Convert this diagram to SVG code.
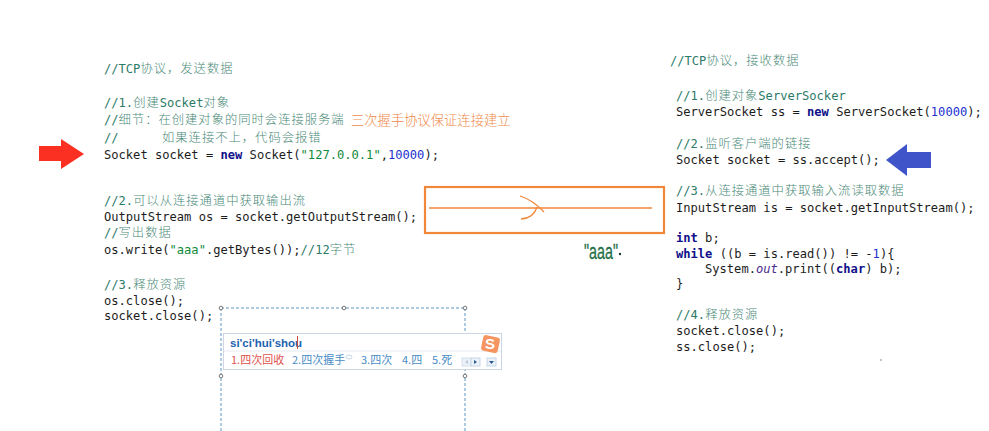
<svg xmlns="http://www.w3.org/2000/svg" width="989" height="431" viewBox="0 0 989 431">
<style>
text{font-family:"DejaVu Sans Mono","Liberation Mono","Noto Sans CJK SC",monospace;font-size:12.1px;fill:#1c1c1c;white-space:pre}
.c{fill:#2c7a68}
.z{font-family:"Noto Sans CJK SC","Noto Sans",sans-serif;font-size:12.3px;letter-spacing:1px;font-weight:300;fill:#4a8a78}
.k{fill:#10108a;font-weight:bold}
.s{fill:#0f8a3a}
.n{fill:#2030d0}
.i{font-family:"Noto Sans CJK SC",sans-serif;font-size:11px;fill:#4a8cc4}
.sel{fill:none;stroke:#5b97c4;stroke-width:1;stroke-dasharray:3 2}
.h{fill:#fff;stroke:#777;stroke-width:1}
</style>
<rect width="989" height="431" fill="#fff"/>
<g id="sender-code">
<text x="104" y="73" class="c">//TCP<tspan class="z">协议，发送数据</tspan></text>
<text x="104" y="107" class="c">//1.<tspan class="z">创建</tspan>Socket<tspan class="z">对象</tspan></text>
<text x="104" y="124" class="c">//<tspan class="z">细节：在创建对象的同时会连接服务端</tspan></text>
<text x="104" y="142" class="c">//<tspan class="z" x="162">如果连接不上，代码会报错</tspan></text>
<text x="104" y="159">Socket socket = <tspan class="k">new</tspan> Socket(<tspan class="s">"127.0.0.1"</tspan>,<tspan class="n">10000</tspan>);</text>
<text x="104" y="205" class="c">//2.<tspan class="z">可以从连接通道中获取输出流</tspan></text>
<text x="104" y="221">OutputStream os = socket.getOutputStream();</text>
<text x="104" y="237" class="c">//<tspan class="z">写出数据</tspan></text>
<text x="104" y="254">os.write(<tspan class="s">"aaa"</tspan>.getBytes());<tspan class="c">//12<tspan class="z">字节</tspan></tspan></text>
<text x="104" y="289" class="c">//3.<tspan class="z">释放资源</tspan></text>
<text x="104" y="305">os.close();</text>
<text x="104" y="320">socket.close();</text>
</g>
<g id="handshake-label"><text x="351" y="125" style="font-family:'Noto Sans CJK SC',sans-serif;font-size:13.300px;fill:#f08a4b;font-weight:300">三次握手协议保证连接建立</text></g>
<g id="receiver-code">
<text x="670" y="65" class="c">//TCP<tspan class="z">协议，接收数据</tspan></text>
<text x="676" y="100" class="c">//1.<tspan class="z">创建对象</tspan>ServerSocker</text>
<text x="676" y="116">ServerSocket ss = <tspan class="k">new</tspan> ServerSocket(<tspan class="n">10000</tspan>);</text>
<text x="676" y="148" class="c">//2.<tspan class="z">监听客户端的链接</tspan></text>
<text x="676" y="164">Socket socket = ss.accept();</text>
<text x="676" y="195" class="c">//3.<tspan class="z">从连接通道中获取输入流读取数据</tspan></text>
<text x="676" y="212">InputStream is = socket.getInputStream();</text>
<text x="676" y="242"><tspan class="k">int</tspan> b;</text>
<text x="676" y="258"><tspan class="k">while</tspan> ((b = is.read()) != -<tspan class="n">1</tspan>){</text>
<text x="705" y="273">System.<tspan font-style="italic" fill="#4b2a8c">out</tspan>.print((<tspan class="k">char</tspan>) b);</text>
<text x="676" y="288">}</text>
<text x="676" y="319" class="c">//4.<tspan class="z">释放资源</tspan></text>
<text x="676" y="335">socket.close();</text>
<text x="676" y="351">ss.close();</text>
</g>
<g id="red-arrow"><polygon points="39,146 61,146 61,139 84,154 61,169 61,161 39,161" fill="#fb3023"/></g>
<g id="blue-arrow"><polygon points="886,160 907,144 907,152 931,152 931,168 907,168 907,176" fill="#3f54c8"/></g>
<g id="channel">
<rect x="425" y="187" width="239" height="46" fill="#fff" stroke="#f0873a" stroke-width="2.200"/>
</g>
<g id="connectors" fill="none" stroke="#f0873a" stroke-width="1.300">
<line x1="429" y1="208" x2="652" y2="208"/>
<path d="M520 196 Q533 200 544 212"/>
<path d="M521 219 Q534 218 537 207"/>
</g>
<g id="aaa-label"><text x="584" y="259" style="font-family:'Liberation Sans',sans-serif;font-size:22px;fill:#1f6f4a;stroke:#1f6f4a;stroke-width:0.300" textLength="34" lengthAdjust="spacingAndGlyphs">"aaa"</text><circle cx="620" cy="254" r="1.200" fill="#1a3a2a"/></g>
<g id="selection-box">
<path class="sel" d="M221 308H465M221 308V431M465 308V431"/>
<circle class="h" cx="221" cy="308" r="1.800"/><circle class="h" cx="344" cy="308" r="1.800"/><circle class="h" cx="465" cy="308" r="1.800"/>
<circle class="h" cx="221" cy="376" r="1.800"/><circle class="h" cx="465" cy="376" r="1.800"/>
</g>
<g id="ime-box">
<rect x="223.500" y="333.500" width="278" height="36" fill="#fff" stroke="#ccd5e3"/>
<line x1="224" y1="351" x2="501" y2="351" stroke="#e6ebf2"/>
<text x="230" y="347" style="font-family:'Liberation Sans',sans-serif;font-size:11.500px;font-weight:bold;fill:#1c62b0">si'ci'hui'shou</text>
<line x1="297.500" y1="336" x2="297.500" y2="349" stroke="#c8503a"/>
<text x="231" y="364" class="i" style="fill:#e0524e">1.四次回收</text>
<text x="292" y="364" class="i">2.四次握手</text>
<text x="361" y="364" class="i">3.四次</text>
<text x="402" y="364" class="i">4.四</text>
<text x="432" y="364" class="i">5.死</text>
<ellipse cx="349" cy="357" rx="3" ry="2" fill="none" stroke="#b5cbe0" stroke-width="0.800"/>
<rect x="462" y="358" width="9" height="8" fill="#eaf1f8" stroke="#d5e0ec"/>
<rect x="471" y="358" width="9" height="8" fill="#eaf1f8" stroke="#c5d5e6"/>
<polygon points="468,360 465,362 468,364" fill="#b8c6d6"/>
<polygon points="474,360 477,362 474,364" fill="#2a5a90"/>
<rect x="487" y="358" width="9" height="8" fill="#eaf1f8" stroke="#c5d5e6"/>
<polygon points="489,361 494,361 491.500,364" fill="#2a5a90"/>
<rect x="482" y="336" width="17" height="16" rx="3" fill="#f59561" transform="rotate(12 490 344)"/>
<text x="485" y="349" style="font-family:'Liberation Sans',sans-serif;font-size:15px;font-weight:bold;fill:#fff">S</text>
</g>
<circle cx="881" cy="360" r="0.800" fill="#777"/>
</svg>
